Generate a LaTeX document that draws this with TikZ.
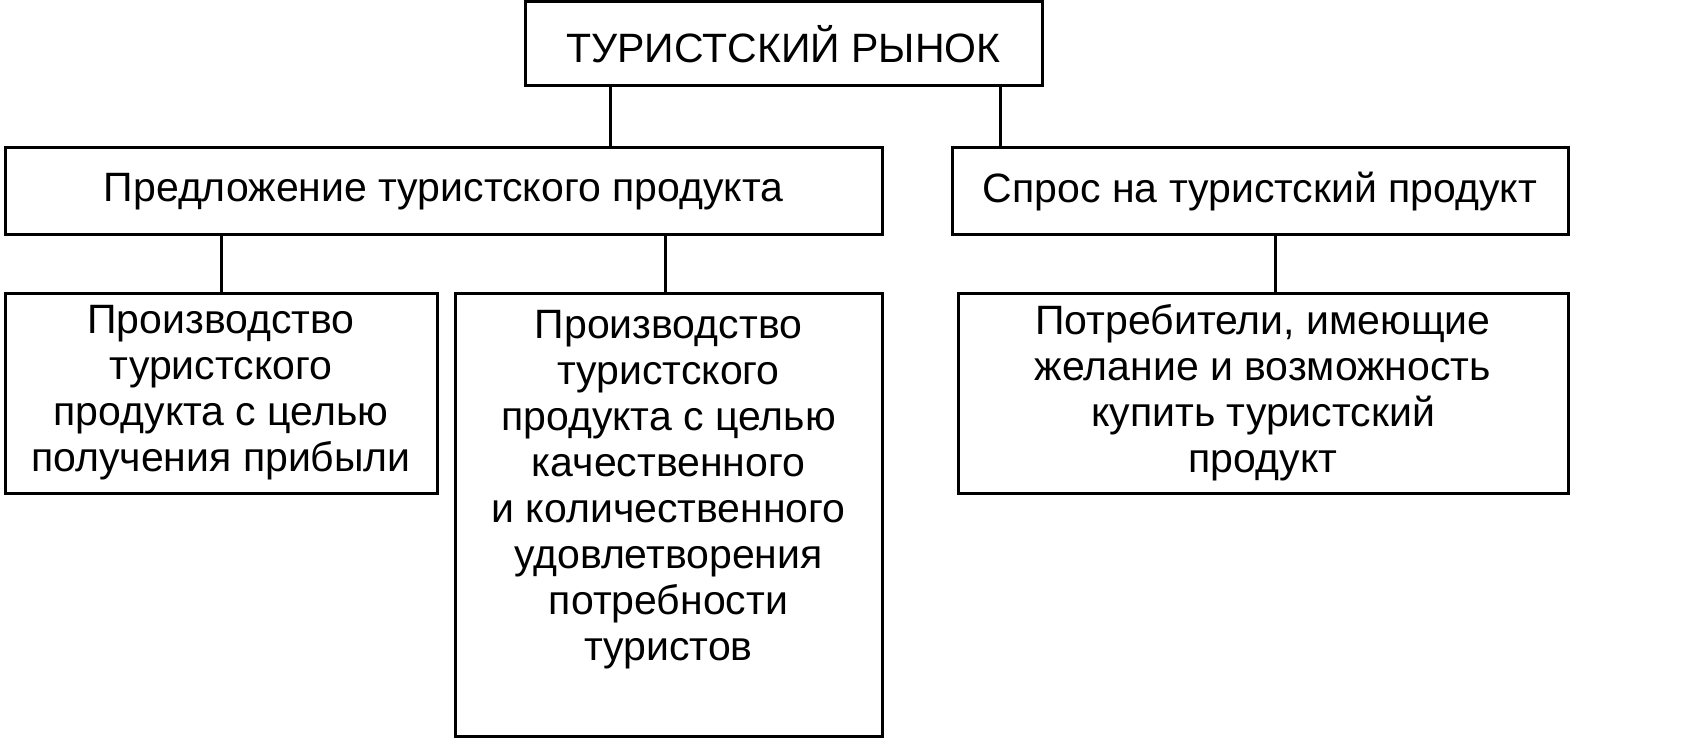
\documentclass[tikz,border=0pt]{standalone}
\usepackage{fontspec}
\setmainfont{Liberation Sans}
\begin{document}
\begin{tikzpicture}[x=0.5pt,y=-0.5pt,line width=1.5pt,
  bx/.style={draw,align=center,inner sep=0pt,font=\fontsize{20.5}{23}\selectfont},
  tx/.style={align=center,inner sep=0pt,font=\fontsize{20.5}{23}\selectfont}]
\useasboundingbox (0,0) rectangle (1701,743);
\node[bx,minimum width=258.5pt,minimum height=42pt] (top) at (783.5,44) {ТУРИСТСКИЙ РЫНОК};
\node[bx,minimum width=438.5pt,minimum height=43.5pt] (lm) at (443.5,191.5) {Предложение туристского продукта};
\node[bx,minimum width=308pt,minimum height=43.5pt] (rm) at (1260,191.5) {Спрос на туристский продукт};
\node[bx,minimum width=216pt,minimum height=100pt] (bl) at (221,393) {Производство\\туристского\\продукта с целью\\получения прибыли};
\node[bx,minimum width=213.5pt,minimum height=221.5pt] (bm) at (668.5,514.5) {};
\node[tx] (bmt) at (668.5,490) {Производство\\туристского\\продукта с целью\\качественного\\и количественного\\удовлетворения\\потребности\\туристов};
\node[bx,minimum width=305pt,minimum height=100pt] (br) at (1263,393) {Потребители, имеющие\\желание и возможность\\купить туристский\\продукт};
\draw (top.south -| 610,0) -- (lm.north -| 610,0);
\draw (top.south -| 1000,0) -- (rm.north -| 1000,0);
\draw (lm.south -| bl) -- (bl.north);
\draw (lm.south -| 665,0) -- (bm.north -| 665,0);
\draw (rm.south -| 1275,0) -- (br.north -| 1275,0);
\end{tikzpicture}
\end{document}
